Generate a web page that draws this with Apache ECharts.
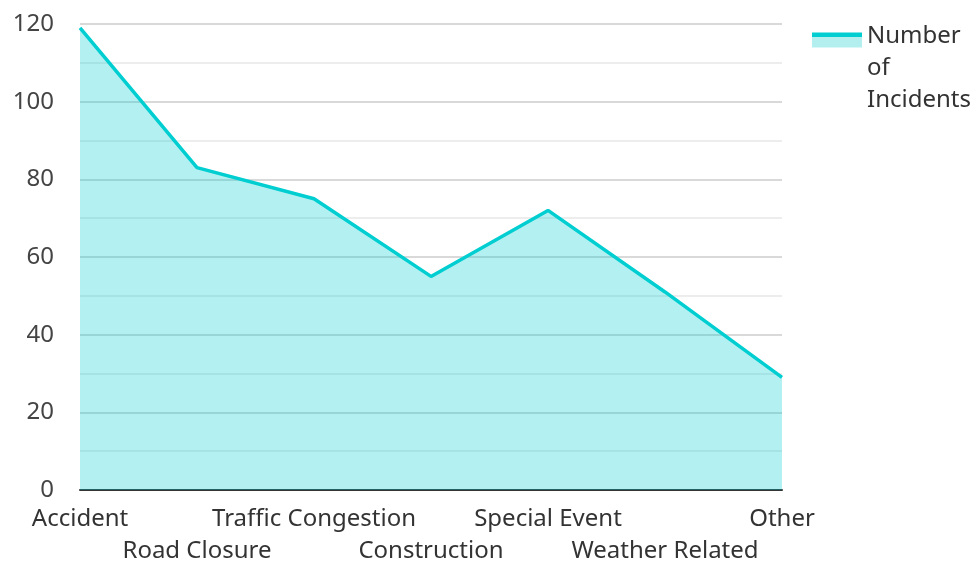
<!DOCTYPE html>
<html><head><meta charset="utf-8">
<script src="https://cdn.jsdelivr.net/npm/echarts@6/dist/echarts.min.js"></script>
<style>html,body{margin:0;padding:0;background:#fff}#c{width:977px;height:562px}</style>
</head><body><div id="c"></div>
<script>
const categories = ["Accident","Road Closure","Traffic Congestion","Construction","Special Event","Weather Related","Other"];
const incidents = [119, 83, 75, 55, 72, 51, 29];
const seriesName = "Number of Incidents";
const yTicks = [0,20,40,60,80,100,120];

const chart = echarts.init(document.getElementById('c'));
chart.setOption({
  animation:false,
  textStyle:{fontFamily:'"Noto Sans", "Open Sans", sans-serif'},
  grid:{left:80,right:195,top:24,bottom:72,containLabel:false,outerBoundsMode:'none'},
  legend:{
    orient:'vertical', left:807, top:-41,
    icon:'rect', itemWidth:50, itemHeight:15, itemGap:10,
    itemStyle:{color:{type:'linear',x:0,y:0,x2:0,y2:1,colorStops:[
      {offset:0,color:'#00CED1'},{offset:0.27,color:'#00CED1'},
      {offset:0.27,color:'#b2efee'},{offset:1,color:'#b2efee'}]}},
    formatter: name => '{s| }\n{s| }\n' + name.split(' ').map(w => '{t|' + w + '}').join('\n'),
    textStyle:{fontSize:24,color:'#333',lineHeight:32,fontFamily:'"Noto Sans", sans-serif',
      rich:{
        s:{fontSize:10,lineHeight:28},
        t:{fontSize:24,lineHeight:32,color:'#333',fontFamily:'"Noto Sans", sans-serif'}
      }},
    data:[seriesName]
  },
  xAxis:{
    type:'category', data:categories, boundaryGap:false,
    axisLine:{lineStyle:{color:'#333',width:2}},
    axisTick:{show:false},
    axisLabel:{interval:0,fontSize:24,color:'#333',margin:13,lineHeight:32,
      formatter:(v,i)=> i%2===1 ? '\n'+v : v}
  },
  yAxis:{
    type:'value', min:yTicks[0], max:yTicks[yTicks.length-1], interval:20,
    axisLine:{show:false}, axisTick:{show:false},
    axisLabel:{fontSize:24,color:'#444',margin:26},
    splitLine:{lineStyle:{color:'#ccc',width:1.5}},
    minorTick:{show:false,splitNumber:2},
    minorSplitLine:{show:true,lineStyle:{color:'#e8e8e8',width:1.5}}
  },
  series:[{
    name:seriesName, type:'line', data:incidents,
    showSymbol:false, symbol:'none',
    lineStyle:{color:'#00CED1',width:3.5},
    itemStyle:{color:'#00CED1'},
    areaStyle:{color:'#00CED1',opacity:0.3}
  }]
});
</script></body></html>
